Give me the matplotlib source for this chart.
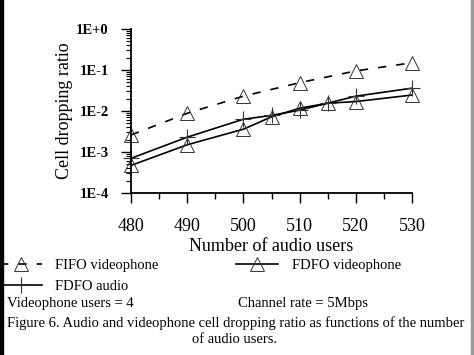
import matplotlib
matplotlib.use("Agg")
import matplotlib.pyplot as plt
from matplotlib.patches import Rectangle
from matplotlib.ticker import FixedLocator, FixedFormatter, LogLocator, MultipleLocator

plt.rcParams['font.family'] = ['Liberation Serif', 'DejaVu Serif']

# ---- data ----
x_fifo = [480, 490, 500, 510, 520, 530]
fifo_video = [2.6e-3, 8.8e-3, 2.3e-2, 4.9e-2, 9.5e-2, 1.5e-1]

x_fdfo = [480, 490, 500, 505, 510, 515, 520, 530]
fdfo_video = [4.7e-4, 1.5e-3, 3.6e-3, 7.2e-3, 1.17e-2, 1.55e-2, 1.7e-2, 2.45e-2]
fdfo_audio = [7.0e-4, 2.3e-3, 6.3e-3, 7.8e-3, 1.05e-2, 1.55e-2, 2.3e-2, 3.6e-2]

x_ticks = [480, 490, 500, 510, 520, 530]
y_ticks = [1e-4, 1e-3, 1e-2, 1e-1, 1e0]
y_tick_labels = ["1E-4", "1E-3", "1E-2", "1E-1", "1E+0"]

W, H = 474, 355
fig = plt.figure(figsize=(W / 100, H / 100), dpi=100)
ax = fig.add_axes([131 / W, 1 - 193 / H, 281 / W, 164 / H])

lw = 1.2
ax.plot(x_fifo, fifo_video, color='black', lw=lw, linestyle=(0, (5, 6)),
        marker='^', markersize=10, markerfacecolor='none',
        markeredgecolor='#333333', markeredgewidth=0.7, label='FIFO videophone',
        clip_on=False)
ax.plot(x_fdfo, fdfo_video, color='black', lw=lw, linestyle='-',
        marker='^', markersize=10, markerfacecolor='none',
        markeredgecolor='#333333', markeredgewidth=0.7, label='FDFO videophone',
        clip_on=False)
ax.plot(x_fdfo, fdfo_audio, color='black', lw=lw, linestyle='-',
        marker='+', markersize=11, markeredgewidth=0.8,
        markeredgecolor='#333333', label='FDFO audio', clip_on=False)

ax.set_yscale('log')
ax.set_xlim(480, 530)
ax.set_ylim(1e-4, 1e0)

for s in ['top', 'right']:
    ax.spines[s].set_visible(False)
for s in ['left', 'bottom']:
    ax.spines[s].set_linewidth(1.3)

ax.xaxis.set_major_locator(FixedLocator(x_ticks))
ax.xaxis.set_minor_locator(MultipleLocator(5))
ax.yaxis.set_major_locator(FixedLocator(y_ticks))
ax.yaxis.set_major_formatter(FixedFormatter(y_tick_labels))
ax.yaxis.set_minor_locator(LogLocator(base=10, subs=range(2, 10), numticks=20))

ax.tick_params(axis='x', which='major', direction='out', length=7, width=1.0,
               labelsize=13, pad=11)
ax.tick_params(axis='x', which='minor', direction='out', length=4, width=1.0)
ax.tick_params(axis='y', which='major', direction='out', length=7, width=1.0,
               labelsize=10.5, pad=9)
ax.tick_params(axis='y', which='minor', direction='out', length=3.5, width=0.8)
for lab in ax.get_yticklabels():
    lab.set_fontweight('bold')

ax.set_xlabel('Number of audio users', fontsize=13, labelpad=2)
ax.set_ylabel('Cell dropping ratio', fontsize=13, labelpad=2)

handles, labels = ax.get_legend_handles_labels()
order = [0, 2, 1]
fig.legend([handles[i] for i in order], [labels[i] for i in order],
           loc='upper left', bbox_to_anchor=(0.0, 1 - 259 / H), ncol=2,
           frameon=False, fontsize=10.5, handlelength=2.9, handletextpad=0.9,
           columnspacing=5.3, labelspacing=0.5, borderpad=0, borderaxespad=0)

fig.text(7 / W, 1 - 303 / H, 'Videophone users = 4', fontsize=10.5,
         ha='left', va='center')
fig.text(238 / W, 1 - 303 / H, 'Channel rate = 5Mbps', fontsize=10.5,
         ha='left', va='center')
fig.text(7 / W, 1 - 323 / H,
         'Figure 6. Audio and videophone cell dropping ratio as functions of the number',
         fontsize=10.5, ha='left', va='center')
fig.text(235 / W, 1 - 339.5 / H, 'of audio users.', fontsize=10.5,
         ha='center', va='center')

# scan borders
fig.patches.append(Rectangle((0, 0), 3 / W, 1, transform=fig.transFigure,
                             color='black', zorder=10))
fig.patches.append(Rectangle((1 - 3 / W, 0), 3 / W, 1, transform=fig.transFigure,
                             color='#999999', zorder=10))

fig.savefig('out.png', dpi=100)
